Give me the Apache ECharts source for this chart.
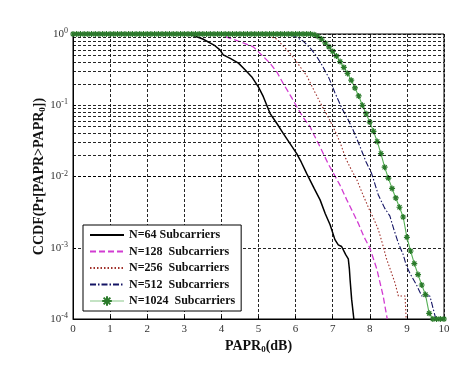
<!DOCTYPE html>
<html><head><meta charset="utf-8">
<script src="https://cdn.jsdelivr.net/npm/echarts@6/dist/echarts.min.js"></script>
<style>html,body{margin:0;padding:0;background:#fff}#c{width:474px;height:372px}</style>
</head><body><div id="c"></div>
<script>
const seriesNames = ['N=64 Subcarriers','N=128  Subcarriers','N=256  Subcarriers','N=512  Subcarriers','N=1024  Subcarriers'];
const xTicks = [0,1,2,3,4,5,6,7,8,9,10];
const yDecades = [1e-4,1e-3,1e-2,1e-1,1];
const minorGrid = [2e-4,3e-4,4e-4,5e-4,6e-4,7e-4,8e-4,9e-4,2e-3,3e-3,4e-3,5e-3,6e-3,7e-3,8e-3,9e-3,2e-2,3e-2,4e-2,5e-2,6e-2,7e-2,8e-2,9e-2,0.2,0.3,0.4,0.5,0.6,0.7,0.8,0.9];

const n64 = [[0,1],[3.0,1],[3.2,0.97],[3.5,0.85],[3.8,0.7],[3.96,0.6],[4.05,0.51],[4.25,0.45],[4.46,0.39],[4.65,0.31],[4.82,0.25],[5.0,0.18],[5.13,0.132],[5.31,0.077],[5.5,0.055],[5.67,0.04],[5.85,0.029],[6.03,0.021],[6.15,0.016],[6.3,0.011],[6.5,0.0068],[6.66,0.0047],[6.8,0.003],[6.93,0.0021],[7.06,0.0013],[7.15,0.0011],[7.24,0.00104],[7.35,0.0008],[7.42,0.0007],[7.45,0.0005],[7.47,0.00035],[7.51,0.00019],[7.57,0.0001]];
const n128 = [[0,1],[3.8,1],[4.0,0.97],[4.23,0.87],[4.5,0.78],[4.86,0.66],[5.1,0.5],[5.31,0.39],[5.5,0.29],[5.67,0.2],[5.85,0.14],[6.03,0.096],[6.2,0.068],[6.39,0.05],[6.5,0.038],[6.66,0.026],[6.88,0.015],[6.97,0.0124],[7.2,0.0075],[7.38,0.0047],[7.55,0.0031],[7.69,0.0022],[7.85,0.0014],[8.0,0.001],[8.19,0.0005],[8.36,0.00021],[8.47,0.0001]];
const n256 = [[0,1],[5.0,1],[5.2,0.97],[5.49,0.85],[5.7,0.65],[5.9,0.5],[6.1,0.36],[6.3,0.26],[6.5,0.16],[6.7,0.1],[6.88,0.068],[7.05,0.045],[7.2,0.03],[7.35,0.018],[7.5,0.0125],[7.65,0.009],[7.8,0.0058],[8.0,0.0033],[8.1,0.0026],[8.23,0.0018],[8.35,0.0011],[8.45,0.0007],[8.55,0.0005],[8.68,0.00032],[8.77,0.00021],[8.95,0.00021],[8.98,0.0001]];
const n512 = [[0,1],[5.6,1],[5.8,0.98],[6.0,0.92],[6.2,0.8],[6.4,0.63],[6.55,0.5],[6.72,0.36],[6.9,0.24],[7.06,0.15],[7.25,0.09],[7.42,0.062],[7.55,0.045],[7.74,0.026],[7.9,0.016],[8.05,0.011],[8.23,0.0055],[8.4,0.0036],[8.54,0.0028],[8.65,0.0018],[8.77,0.00116],[8.9,0.0008],[8.99,0.00055],[9.1,0.00042],[9.26,0.0003],[9.4,0.00021],[9.62,0.00021],[9.78,0.0001]];
const n1024 = [[0,1],[0.1,1],[0.2,1],[0.3,1],[0.4,1],[0.5,1],[0.6,1],[0.7,1],[0.8,1],[0.9,1],
[1.0,1],[1.1,1],[1.2,1],[1.3,1],[1.4,1],[1.5,1],[1.6,1],[1.7,1],[1.8,1],[1.9,1],
[2.0,1],[2.1,1],[2.2,1],[2.3,1],[2.4,1],[2.5,1],[2.6,1],[2.7,1],[2.8,1],[2.9,1],
[3.0,1],[3.1,1],[3.2,1],[3.3,1],[3.4,1],[3.5,1],[3.6,1],[3.7,1],[3.8,1],[3.9,1],
[4.0,1],[4.1,1],[4.2,1],[4.3,1],[4.4,1],[4.5,1],[4.6,1],[4.7,1],[4.8,1],[4.9,1],
[5.0,1],[5.1,1],[5.2,1],[5.3,1],[5.4,1],[5.5,1],[5.6,1],[5.7,1],[5.8,1],[5.9,1],
[6.0,1],[6.1,1],[6.2,1],[6.3,1],[6.4,1],[6.5,0.98],[6.6,0.93],[6.7,0.85],[6.8,0.75],[6.9,0.66],
[7.0,0.57],[7.1,0.49],[7.2,0.41],[7.3,0.34],[7.4,0.28],[7.5,0.225],[7.6,0.175],[7.7,0.135],[7.8,0.1],[7.9,0.076],
[8.0,0.058],[8.1,0.043],[8.2,0.031],[8.3,0.021],[8.4,0.0135],[8.5,0.0095],[8.6,0.0068],[8.7,0.005],[8.8,0.0037],[8.9,0.0027],
[9.0,0.0014],[9.1,0.0009],[9.2,0.0006],[9.3,0.00042],[9.4,0.0003],[9.5,0.00022],[9.6,0.00012],[9.7,0.0001],[9.8,0.0001],[9.9,0.0001],[10,0.0001]];

const FONT = 'Liberation Serif';
const star = 'path://M0,5L10,5M5,0L5,10M1.5,1.5L8.5,8.5M8.5,1.5L1.5,8.5';
const gridDash = {color:'#000', width:1, type:[3,2], opacity:0.85};

const chart = echarts.init(document.getElementById('c'), null, {renderer:'canvas'});
const sup = n => '10{s|' + n + '}';
chart.setOption({
  animation:false,
  backgroundColor:'#fff',
  textStyle:{fontFamily:FONT},
  grid:{left:73, right:30, top:34, bottom:53, show:true, borderColor:'#000', borderWidth:1},
  legend:{
    left:83, top:225, orient:'vertical', itemWidth:34, itemHeight:12, itemGap:4.5,
    padding:[4,6,4,6], backgroundColor:'#fff', borderColor:'#000', borderWidth:1,
    textStyle:{fontFamily:FONT, fontWeight:'bold', fontSize:12, color:'#111', width:100},
    data:[
      {name:seriesNames[0], itemStyle:{opacity:0}},
      {name:seriesNames[1], itemStyle:{opacity:0}},
      {name:seriesNames[2], itemStyle:{opacity:0}},
      {name:seriesNames[3], itemStyle:{opacity:0}},
      {name:seriesNames[4], lineStyle:{opacity:0.35}}
    ]
  },
  xAxis:{
    type:'value', min:0, max:10, interval:1,
    axisLine:{show:true, lineStyle:{color:'#000'}},
    axisTick:{show:true, inside:true, length:3, lineStyle:{color:'#000'}},
    axisLabel:{fontFamily:FONT, fontSize:11, color:'#333', margin:5,
      formatter: v => xTicks.includes(v) ? String(v) : ''},
    splitLine:{show:true, lineStyle:gridDash},
    name:'PAPR{s|0}(dB)', nameLocation:'middle', nameGap:19, nameMoveOverlap:false,
    nameTextStyle:{fontFamily:FONT, fontSize:14, fontWeight:'bold', color:'#111',
      rich:{s:{fontFamily:FONT, fontSize:9, fontWeight:'bold', verticalAlign:'bottom', padding:[7,0,0,0]}}}
  },
  yAxis:{
    type:'log', logBase:10, min:1e-4, max:1,
    axisLine:{show:true, lineStyle:{color:'#000'}},
    axisTick:{show:true, inside:true, length:3, lineStyle:{color:'#000'}},
    axisLabel:{fontFamily:FONT, fontSize:11, color:'#333', margin:5,
      formatter: v => { const e = Math.round(Math.log10(v)); return yDecades.some(d=>Math.abs(Math.log10(d)-e)<1e-6) ? sup(e<0?'-'+(-e):e) : ''; },
      rich:{s:{fontFamily:FONT, fontSize:8, color:'#333', verticalAlign:'top', padding:[0,0,6,0]}}},
    splitLine:{show:true, lineStyle:gridDash},
    name:'CCDF(Pr[PAPR>PAPR{s|0}])', nameLocation:'middle', nameGap:26, nameMoveOverlap:false,
    nameTextStyle:{fontFamily:FONT, fontSize:14, fontWeight:'bold', color:'#111',
      rich:{s:{fontFamily:FONT, fontSize:9, fontWeight:'bold', verticalAlign:'bottom', padding:[7,0,0,0]}}}
  },
  series:[
    {name:seriesNames[0], type:'line', data:n64, symbol:'none', color:'#000',
     lineStyle:{color:'#000', width:1.5, type:'solid'},
     markLine:{silent:true, symbol:['none','none'], label:{show:false}, lineStyle:gridDash,
       data:minorGrid.map(v=>({yAxis:v}))}, z:3},
    {name:seriesNames[1], type:'line', data:n128, symbol:'none', color:'#d23cd2',
     lineStyle:{color:'#d23cd2', width:1.3, type:[6,3]}, z:3},
    {name:seriesNames[2], type:'line', data:n256, symbol:'none', color:'#a0302a',
     lineStyle:{color:'#a0302a', width:1.1, type:[1.5,2]}, z:3},
    {name:seriesNames[3], type:'line', data:n512, symbol:'none', color:'#141464',
     lineStyle:{color:'#141464', width:1.1, type:[6,2,1.5,2]}, z:3},
    {name:seriesNames[4], type:'line', data:n1024, symbol:star, symbolSize:6, showSymbol:true, color:'#2f8a2f',
     itemStyle:{color:'#2f8a2f', borderColor:'#2a7a2a', borderWidth:1.2},
     lineStyle:{color:'#55b055', width:1.1}, z:4}
  ]
});
</script></body></html>
